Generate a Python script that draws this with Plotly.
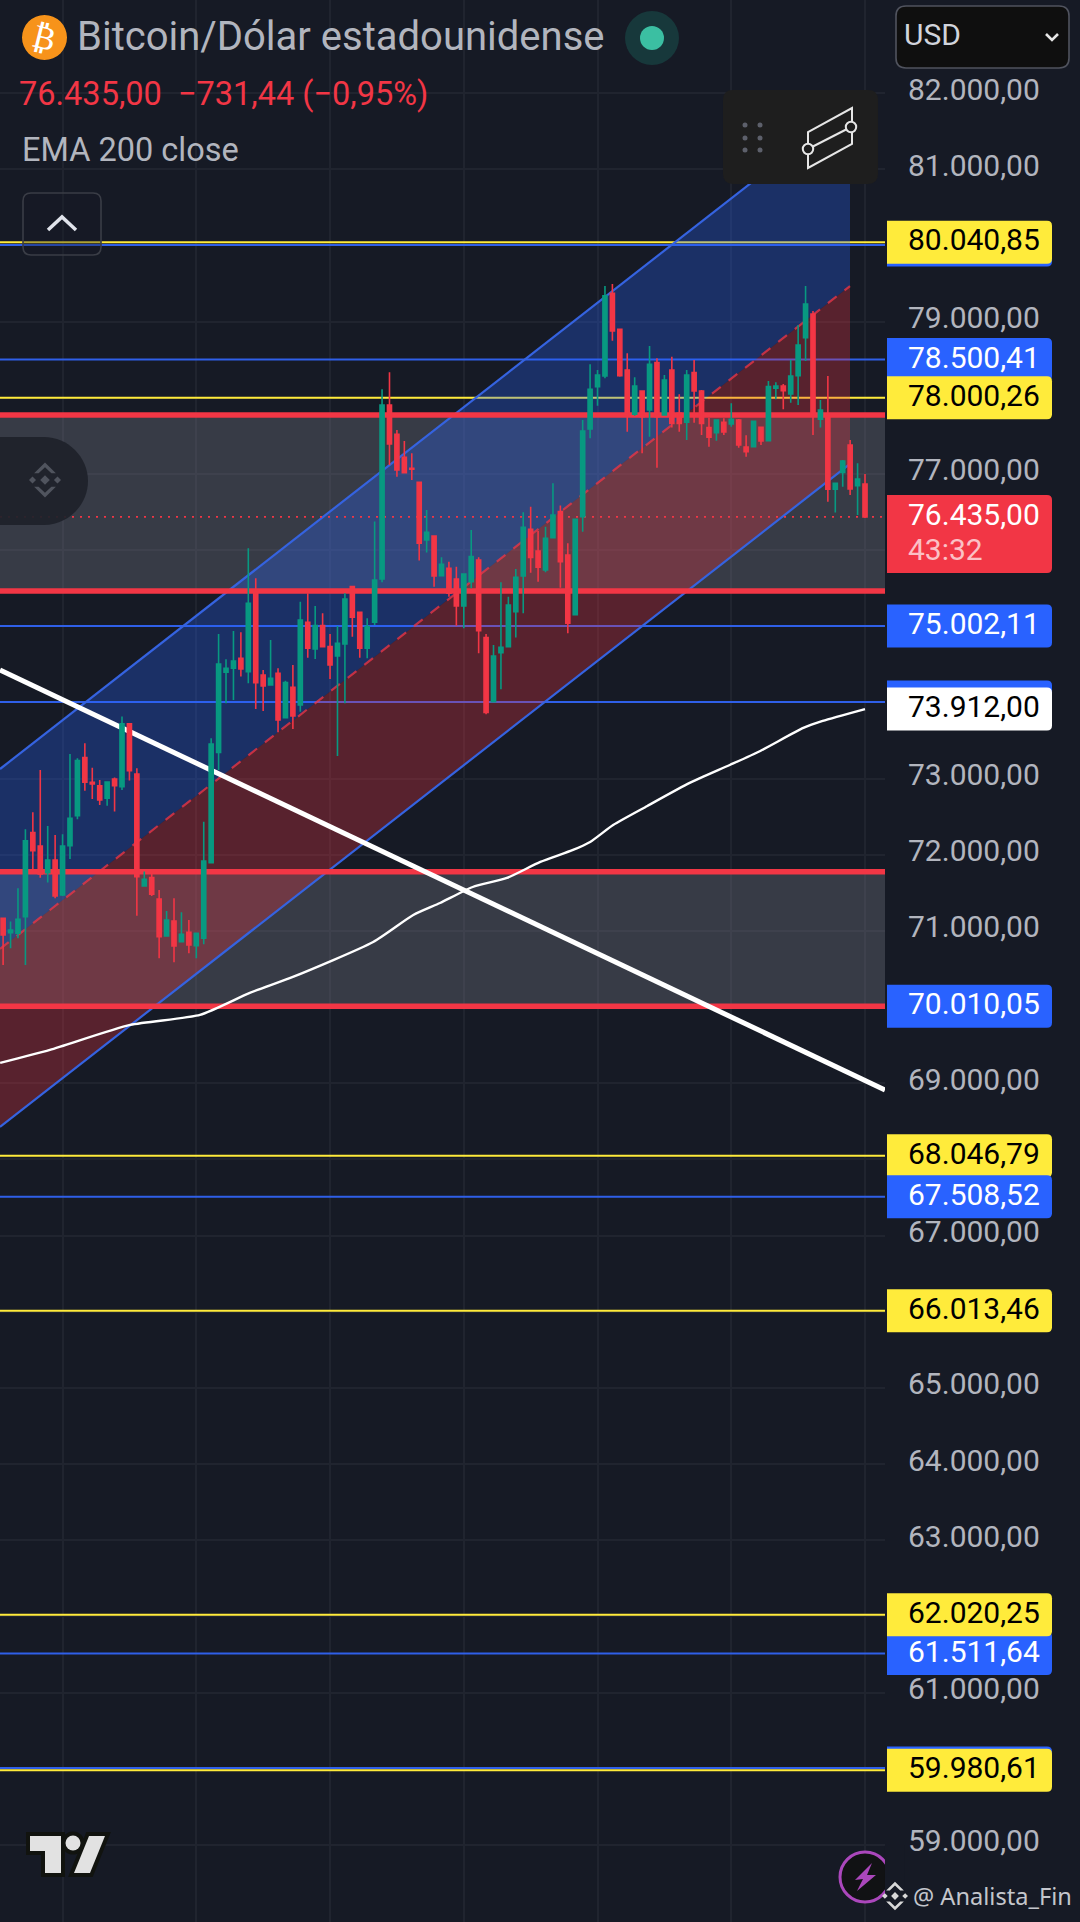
import plotly.graph_objects as go

W, H = 1080, 1922
BG = "#161A25"
GREEN = "#089981"
RED = "#F23645"
BLUE = "#2962FF"
YELLOW = "#FFEB3B"
TXT = "#B2B5BE"

opens = [71165,70977,70968,71187,72290,72115,71765,71931,71472,72119,
72513,73275,72951,72903,72741,72994,72894,73717,73060,71590,
71699,71419,70933,71130,70859,70982,70807,70903,71896,73344,
74395,74447,74578,74403,75454,74360,74228,74381,73800,74198,
73966,75051,74701,75007,74732,74609,74767,75519,75182,74710,
75051,75620,77904,77519,77217,77073,76889,76132,76184,75664,
75760,75620,75265,75585,75869,74850,74010,74653,74732,75191,
75659,76272,75987,75738,76163,76504,75935,75152,76438,77589,
78145,78285,79370,78898,78364,77782,78088,77839,78460,77773,
78364,77795,77677,78329,78088,77607,77541,77677,77655,77707,
77353,77357,77611,77436,78123,78154,78049,78289,78788,79099,
77716,77764,76797,77020,77379,76845,76867]
highs = [71165,71122,71559,72334,72557,73113,72377,72259,72268,73323,
73266,73463,73143,72981,72955,73012,73813,73717,73135,71778,
71747,71537,71262,71428,71244,71143,70977,72434,73528,74898,
74565,74937,74920,76022,75629,74425,74819,74447,74285,74491,
75322,75432,75265,75169,74898,75003,75432,75528,75182,75104,
76373,78110,78333,77576,77432,77270,76889,76526,76184,75904,
75847,75782,75686,76263,75904,74898,74753,75576,75388,75751,
76495,76569,76250,76307,76876,76583,76088,76403,77707,78438,
78364,79466,79493,78898,78582,78267,78088,78679,78517,78298,
78539,78044,78364,78495,78101,77738,77716,77729,77926,77720,
77506,77698,77620,78219,78202,78180,78495,78954,79466,79138,
77970,78285,76885,77182,77445,77138,76998]
lows = [70553,70771,70903,70553,71800,71699,71634,71428,71459,71944,
72465,72841,72732,72653,72644,72566,72850,72973,71200,71581,
71459,70640,70925,70588,70846,70706,70640,70824,71887,73112,
73988,74031,74338,74250,73913,73887,74228,73607,73791,73651,
73878,74587,74570,74732,74307,73296,73988,74863,74587,74578,
75016,75576,77116,76963,77007,76920,75861,75966,75519,75659,
75388,75007,74972,75497,74644,73843,74010,74171,74732,74850,
75169,75703,75585,75707,76154,75506,74907,75148,76241,77467,
77895,78254,78749,78276,77554,77764,77270,77488,77081,77764,
77607,77554,77445,77672,77510,77357,77436,77510,77620,77344,
77226,77348,77379,77432,77979,77847,77935,77904,78482,77510,
77607,76635,76491,76832,76723,76460,76435]
closes = [70947,71012,71152,72181,72054,71747,71931,71459,72115,72478,
73235,72951,72929,72719,72955,72907,73717,73104,71712,71677,
71480,70925,71143,70802,70955,70815,70968,71918,73454,74504,
74447,74543,74438,75300,74259,74215,74316,73769,74259,73821,
75082,74710,75007,74732,74491,74775,75357,75117,74710,74994,
75607,77904,77392,77051,77016,77060,76088,76233,75659,75812,
75432,75265,75686,75913,74942,73869,74609,74723,75279,75642,
76298,75904,75773,76154,76460,75847,75038,76403,77563,78110,
78298,79339,78876,78289,77773,78154,77751,78438,77751,78232,
77663,77663,78298,78088,77663,77480,77707,77550,77716,77379,
77292,77690,77432,78145,78154,78092,78285,78692,79230,77773,
77839,76797,76876,77169,76801,76933,76435]
bar_index = list(range(1, len(opens) + 1))

ema_index = [0.6,7.3,18.1,27.5,34.2,40.0,50.8,56.2,59.8,64.2,68.8,73.3,77.7,80.0,83.1,87.7,93.4,98.8,102.9,108.7,111.3,117]
ema_values = [69266,69437,69765,69896,70185,70395,70854,71209,71366,71576,71695,71905,72062,72167,72390,72640,72942,73178,73362,73664,73756,73912]

channel_x = [0.58, 114.98]
channel_upper = [73125, 81833]
channel_mid = [70762, 79466]
channel_lower = [68426, 77130]

trend_x = [0.58, 119.69]
trend_y = [74425, 68911]

yellow_levels = [80040.85, 78000.26, 68046.79, 66013.46, 62020.25, 59980.61]
blue_levels = [80005, 78500.41, 75002.11, 74006, 67508.52, 61511.64, 60010]
red_levels = [77773, 75462, 71777, 70010.05]
zones = [(77773, 75462), (71777, 70010.05)]
last_price = 76435.00

tick_prices = list(range(59000, 83000, 1000))
tick_labels = ["59.000,00","","61.000,00","","63.000,00","64.000,00","65.000,00","","67.000,00","","69.000,00","",
               "71.000,00","72.000,00","73.000,00","","","","77.000,00","","79.000,00","","81.000,00","82.000,00"]
grid_index = [9, 27, 45, 63, 81, 99, 117]

price_tags = [
    (80005, "", BLUE, "#FFFFFF"),
    (80040.85, "80.040,85", YELLOW, "#000000"),
    (78500.41, "78.500,41", BLUE, "#FFFFFF"),
    (78000.26, "78.000,26", YELLOW, "#000000"),
    (75002.11, "75.002,11", BLUE, "#FFFFFF"),
    (74006, "", BLUE, "#FFFFFF"),
    (73912.00, "73.912,00", "#FFFFFF", "#000000"),
    (70010.05, "70.010,05", BLUE, "#FFFFFF"),
    (68046.79, "68.046,79", YELLOW, "#000000"),
    (67508.52, "67.508,52", BLUE, "#FFFFFF"),
    (66013.46, "66.013,46", YELLOW, "#000000"),
    (61511.64, "61.511,64", BLUE, "#FFFFFF"),
    (62020.25, "62.020,25", YELLOW, "#000000"),
    (60010, "", BLUE, "#FFFFFF"),
    (59980.61, "59.980,61", YELLOW, "#000000"),
]

XR = [0.58, 119.69]
PLOT_R = 885
YR = [57988, 83221]

fig = go.Figure()

def hline(y, color, width, dash="solid", name=""):
    fig.add_trace(go.Scatter(x=XR, y=[y, y], mode="lines", line=dict(color=color, width=width, dash=dash),
                             hoverinfo="skip", showlegend=False, name=name))

for v in yellow_levels:
    hline(v, YELLOW, 2)
for v in blue_levels:
    hline(v, "#2F5FE8", 2)

for top, bot in zones:
    fig.add_trace(go.Scatter(x=[XR[0], XR[1], XR[1], XR[0], XR[0]], y=[top, top, bot, bot, top], mode="lines",
                             line=dict(width=0), fill="toself", fillcolor="rgba(120,123,134,0.34)",
                             hoverinfo="skip", showlegend=False))

fig.add_trace(go.Scatter(x=channel_x + channel_x[::-1], y=channel_upper + channel_mid[::-1], mode="lines",
                         line=dict(width=0), fill="toself", fillcolor="rgba(41,98,255,0.30)",
                         hoverinfo="skip", showlegend=False))
fig.add_trace(go.Scatter(x=channel_x + channel_x[::-1], y=channel_mid + channel_lower[::-1], mode="lines",
                         line=dict(width=0), fill="toself", fillcolor="rgba(242,54,69,0.30)",
                         hoverinfo="skip", showlegend=False))
for ys, col, dash in [(channel_upper, "#3563E0", "solid"), (channel_lower, "#3563E0", "solid"),
                      (channel_mid, "rgba(242,54,69,0.75)", "11px,10px")]:
    fig.add_trace(go.Scatter(x=channel_x, y=ys, mode="lines", line=dict(color=col, width=2.2, dash=dash),
                             hoverinfo="skip", showlegend=False))

for v in red_levels:
    hline(v, RED, 5.5)
hline(last_price, RED, 1.8, "2px,6px")

fig.add_trace(go.Scatter(x=ema_index, y=ema_values, mode="lines", line=dict(color="#FFFFFF", width=2.4, shape="spline", smoothing=0.6),
                         hoverinfo="skip", showlegend=False, name="EMA 200 close"))
fig.add_trace(go.Scatter(x=trend_x, y=trend_y, mode="lines", line=dict(color="#FFFFFF", width=5),
                         hoverinfo="skip", showlegend=False))

# candles live on an overlaying subplot so they are stacked above the scatter fills
fig.add_trace(go.Candlestick(x=bar_index, open=opens, high=highs, low=lows, close=closes,
                             increasing=dict(line=dict(color=GREEN, width=1.6), fillcolor=GREEN),
                             decreasing=dict(line=dict(color=RED, width=1.6), fillcolor=RED),
                             whiskerwidth=0, showlegend=False, name="BTC/USD", xaxis="x2", yaxis="y2"))

def xp(x): return x / W
def yp(y): return 1 - y / H

shapes, annos = [], []

def poly(points, fill=None, line=None, lw=0, close=True):
    d = "M " + " L ".join(f"{xp(x):.5f},{yp(y):.5f}" for x, y in points) + (" Z" if close else "")
    shapes.append(dict(type="path", xref="paper", yref="paper", path=d,
                       fillcolor=fill or "rgba(0,0,0,0)", line=dict(color=line or "rgba(0,0,0,0)", width=lw)))

def rrect(x0, y0, x1, y1, r, fill, line=None, lw=0, round_left=True):
    rl = r if round_left else 0
    c = lambda x, y: f"{xp(x):.5f},{yp(y):.5f}"
    d = (f"M {c(x0+rl,y0)} L {c(x1-r,y0)} Q {c(x1,y0)} {c(x1,y0+r)} L {c(x1,y1-r)} Q {c(x1,y1)} {c(x1-r,y1)} "
         f"L {c(x0+rl,y1)} Q {c(x0,y1)} {c(x0,y1-rl)} L {c(x0,y0+rl)} Q {c(x0,y0)} {c(x0+rl,y0)} Z")
    shapes.append(dict(type="path", xref="paper", yref="paper", path=d, fillcolor=fill,
                       line=dict(color=line or "rgba(0,0,0,0)", width=lw)))

def circle(cx, cy, r, fill, line=None, lw=0):
    shapes.append(dict(type="circle", xref="paper", yref="paper", x0=xp(cx-r), x1=xp(cx+r), y0=yp(cy+r), y1=yp(cy-r),
                       fillcolor=fill, line=dict(color=line or "rgba(0,0,0,0)", width=lw)))

def text(x, y, s, size, color, family="Roboto", anchor="left", **kw):
    annos.append(dict(xref="paper", yref="paper", x=xp(x), y=yp(y), text=s, showarrow=False, xanchor=anchor, yanchor="middle",
                      font=dict(family=family, size=size, color=color), borderpad=0, **kw))

def binance(cx, cy, s, color):
    for dx, dy, r in [(0, 0, .30), (-.78, 0, .22), (.78, 0, .22)]:
        poly([(cx+dx*s, cy+dy*s-r*s), (cx+dx*s+r*s, cy+dy*s), (cx+dx*s, cy+dy*s+r*s), (cx+dx*s-r*s, cy+dy*s)], fill=color)
    for sign in (-1, 1):
        poly([(cx-.68*s, cy+sign*.42*s), (cx-.40*s, cy+sign*.42*s), (cx, cy+sign*.80*s), (cx+.40*s, cy+sign*.42*s),
              (cx+.68*s, cy+sign*.42*s), (cx, cy+sign*1.1*s)], fill=color)

XTAG0 = 887 / W
def tag(price, color, top=21.5, bottom=21.5):
    w = 165; r = 5
    d = (f"M 0,{top} L {w-r},{top} Q {w},{top} {w},{top-r} L {w},{-bottom+r} Q {w},{-bottom} {w-r},{-bottom} L 0,{-bottom} Z")
    shapes.append(dict(type="path", xref="paper", yref="y", xsizemode="pixel", ysizemode="pixel",
                       xanchor=XTAG0, yanchor=price, path=d, fillcolor=color, line=dict(width=0)))

TAG_TEXT_X = 907 / W
for price, label, bg, fg in price_tags:
    tag(price, bg)
    if label:
        annos.append(dict(xref="paper", yref="y", x=TAG_TEXT_X, y=price, yshift=2.5, text=label, showarrow=False, xanchor="left", yanchor="middle",
                          font=dict(family="Roboto", size=30, color=fg), borderpad=0))
tag(last_price, RED, top=22, bottom=56)
annos.append(dict(xref="paper", yref="y", x=TAG_TEXT_X, y=last_price, yshift=2.5, text="76.435,00", showarrow=False, xanchor="left", yanchor="middle",
                  font=dict(family="Roboto", size=30, color="#FFFFFF"), borderpad=0))
annos.append(dict(xref="paper", yref="y", x=TAG_TEXT_X, y=last_price, yshift=-33, text="43:32", showarrow=False, xanchor="left", yanchor="middle",
                  font=dict(family="Roboto", size=30, color="#FBC0C5"), borderpad=0))

circle(44.5, 37.5, 22.5, "#F7931A")
text(44.5, 37, "₿", 33, "#FFFFFF", family="DejaVu Sans", anchor="center", textangle=14)
text(76, 36, "Bitcoin/Dólar estadounidense", 40, TXT)
circle(652, 38, 27, "#17383B")
circle(652, 38, 12, "#3BBFA2")
text(18, 94, "76.435,00\u00a0\u00a0−731,44 (−0,95%)", 32.5, RED)
text(21, 150, "EMA 200 close", 32.5, TXT)

rrect(23, 193, 101, 255, 8, "rgba(22,26,37,0.35)", line="#3A3D46", lw=1.6)
poly([(48, 230), (62, 217), (76, 230)], line="#E0E3EB", lw=3.5, close=False)

c = lambda x, y: f"{xp(x):.5f},{yp(y):.5f}"
shapes.append(dict(type="path", xref="paper", yref="paper", fillcolor="rgba(30,33,42,0.93)", line=dict(width=0),
                   path=f"M {c(0,437)} L {c(44,437)} C {c(68,437)} {c(88,457)} {c(88,481)} C {c(88,505)} {c(68,525)} {c(44,525)} L {c(0,525)} Z"))
binance(45, 480, 16, "#50545E")

rrect(723, 90, 878, 184, 10, "#1E1E1E")
for dx, dy in [(745, 125), (760, 125), (745, 138), (760, 138), (745, 150), (760, 150)]:
    circle(dx, dy, 2.5, "#5D606B")
poly([(808, 132), (852, 108), (852, 144), (808, 168)], line="#E6E6E6", lw=2)
poly([(808, 149), (851, 127)], line="#E6E6E6", lw=2, close=False)
circle(808, 149, 5.2, "#1E1E1E", line="#E6E6E6", lw=2)
circle(851, 127, 5.2, "#1E1E1E", line="#E6E6E6", lw=2)

rrect(896, 6, 1069, 68, 10, "#0F0F0F", line="#50535E", lw=1.6)
text(903, 35, "USD", 30, "#D1D4DC")
poly([(1046, 34), (1052, 40), (1058, 34)], line="#E6E6E6", lw=2.6, close=False)

T_pts = [(30, 1836), (61, 1836), (61, 1873), (45, 1873), (45, 1851), (30, 1851)]
S_pts = [(89, 1836), (105, 1836), (90, 1873), (74, 1873)]
poly(T_pts, fill="#11130F", line="#11130F", lw=8)
poly(S_pts, fill="#11130F", line="#11130F", lw=8)
circle(73, 1843, 7.5, "#11130F", line="#11130F", lw=8)
poly(T_pts, fill="#E2E2E2")
poly(S_pts, fill="#E2E2E2")
circle(73, 1843, 7.5, "#E2E2E2")

circle(865, 1877, 25, "#111214", line="#AB47BC", lw=3)
poly([(855, 1880), (872, 1863), (867, 1875), (876, 1875), (857, 1891), (863, 1879)], fill="#AB47BC")
poly([(885, 1845), (905, 1845), (905, 1910), (885, 1910)], fill=BG)

binance(895, 1896, 13, "#D8D8D8")
text(912, 1896, "@ Analista_Fin", 23.6, "#C4C6CC", family="Noto Sans")

fig.update_layout(
    width=W, height=H,
    margin=dict(l=0, r=0, t=0, b=0),
    paper_bgcolor=BG, plot_bgcolor=BG,
    boxgap=0.22,
    showlegend=False,
    hovermode=False,
    shapes=shapes, annotations=annos,
    xaxis=dict(range=XR, domain=[0, PLOT_R / W], type="linear", rangeslider=dict(visible=False),
               tickmode="array", tickvals=grid_index, showticklabels=False, ticks="",
               showgrid=True, gridcolor="#20242F", gridwidth=1.5, zeroline=False, showline=False),
    yaxis=dict(range=YR, domain=[0, 1], side="right", tickmode="array", tickvals=tick_prices, ticktext=tick_labels,
               showgrid=True, gridcolor="#20242F", gridwidth=1.5, zeroline=False, showline=False, ticks="",
               ticklabelstandoff=22, ticklabelshift=-4, tickfont=dict(family="Roboto", size=30, color=TXT)),
    xaxis2=dict(range=XR, overlaying="x", visible=False, type="linear", rangeslider=dict(visible=False), anchor="y2"),
    yaxis2=dict(range=YR, overlaying="y", visible=False, anchor="x2", side="right"),
)

fig.write_html("out.html", post_script="document.body.style.margin='0';document.documentElement.style.background='#161A25';",
               config=dict(displayModeBar=False))
